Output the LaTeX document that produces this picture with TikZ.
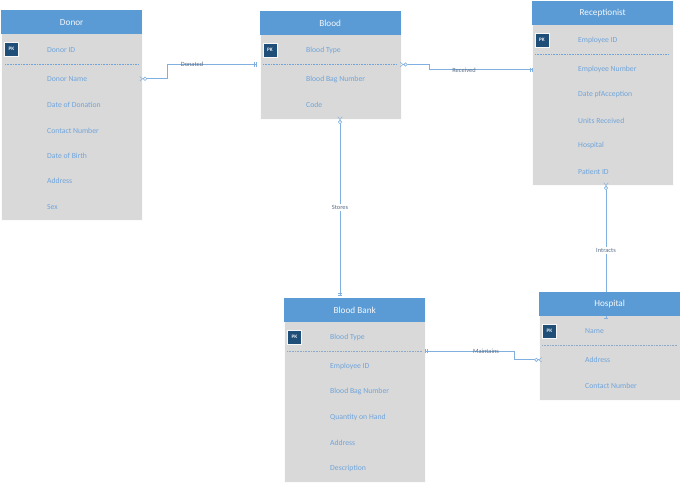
\documentclass[tikz,border=0pt]{standalone}
\usepackage{fontspec}
\setmainfont{Carlito}
\usetikzlibrary{arrows.meta}
\definecolor{headblue}{HTML}{5B9BD5}
\definecolor{bodygray}{HTML}{D9D9D9}
\definecolor{keyblue}{HTML}{1F4E79}
\definecolor{textblue}{HTML}{6FA5DB}
\definecolor{lineblue}{HTML}{7FB0E0}
\definecolor{labelgray}{HTML}{5A6E88}
\definecolor{rulegray}{HTML}{8FA8C8}
\tikzset{
  onemark/.tip={Bar[width=4.5pt,line width=.5pt,sep=1.5pt]Bar[width=4.5pt,line width=.5pt,sep=3pt]},
  manymark/.tip={Circle[open,length=4pt,width=4pt,line width=.6pt,fill=white,sep=0pt]Straight Barb[reversed,length=3pt,width=4.5pt,line width=.5pt,sep=0pt]},
}
\begin{document}
\begin{tikzpicture}[x=1pt,y=-1pt]
\tikzstyle{every node}+=[inner sep=0pt]
\tikzstyle{body}=[anchor=north west,fill=bodygray,draw=white!90!bodygray,line width=.4pt,minimum width=141pt]
\tikzstyle{header}=[anchor=north west,fill=headblue,minimum width=141pt,minimum height=24pt,text=white!92!headblue,font=\fontsize{9.2}{11}\selectfont]
\tikzstyle{attr}=[anchor=west,text=textblue,font=\fontsize{7.7}{10}\selectfont]
\tikzstyle{pk}=[fill=keyblue,draw=white!80!bodygray,line width=.5pt,minimum size=14pt,text=white!90!keyblue,font=\fontsize{5.2}{6}\selectfont\bfseries]
\tikzstyle{divider}=[textblue,line width=.5pt,dash pattern=on 1pt off .6pt]
\tikzstyle{relation}=[lineblue,line width=.9pt]
\tikzstyle{rellabel}=[text=labelgray,font=\fontsize{6.4}{8}\selectfont]
\useasboundingbox (0,0) rectangle (680,483);
% Donor
\node [body,minimum height=210pt] (donor) at (1,10) {};
\node [pk] (donorpk) at (11.5,49) {PK};
\node [attr] (donorid) at (47,49.8) {Donor ID};
\coordinate (donorruleA) at (5,64);
\coordinate (donorruleB) at (138,64);
\draw [divider] (donorruleA) -- (donorruleB);
\node [attr] (donorname) at (47,78.8) {Donor Name};
\node [attr] (donordate) at (47,104.8) {Date of Donation};
\node [attr] (donorcontact) at (47,130.8) {Contact Number};
\node [attr] (donorbirth) at (47,155.8) {Date of Birth};
\node [attr] (donoraddress) at (47,180.8) {Address};
\node [attr] (donorsex) at (47,206.8) {Sex};
% Blood
\node [body,minimum height=108pt] (blood) at (259.5,11) {};
\node [pk] (bloodpk) at (270,50) {PK};
\node [attr] (bloodtype) at (306,50.8) {Blood Type};
\coordinate (bloodruleA) at (263,64.5);
\coordinate (bloodruleB) at (397,64.5);
\draw [divider] (bloodruleA) -- (bloodruleB);
\node [attr] (bloodbag) at (306,79.8) {Blood Bag Number};
\node [attr] (bloodcode) at (306,104.8) {Code};
% Receptionist
\node [body,minimum height=184pt] (receptionist) at (532,1) {};
\node [pk] (receptionistpk) at (542,40) {PK};
\node [attr] (employeeid) at (578,40.8) {Employee ID};
\coordinate (receptionistruleA) at (535,54.5);
\coordinate (receptionistruleB) at (669,54.5);
\draw [divider] (receptionistruleA) -- (receptionistruleB);
\node [attr] (employeenumber) at (578,69.8) {Employee Number};
\node [attr] (acception) at (578,94.8) {Date pfAcception};
\node [attr] (unitsreceived) at (578,120.8) {Units Received};
\node [attr] (hospitalname) at (578,145.8) {Hospital};
\node [attr] (patientid) at (578,171.8) {Patient ID};
% Blood Bank
\node [body,minimum height=184pt] (bloodbank) at (284,298) {};
\node [pk] (bankpk) at (294.5,337) {PK};
\node [attr] (banktype) at (330,337.8) {Blood Type};
\coordinate (bankruleA) at (287,351);
\coordinate (bankruleB) at (422,351);
\draw [divider,rulegray] (bankruleA) -- (bankruleB);
\node [attr] (bankemployee) at (330,366.8) {Employee ID};
\node [attr] (bankbag) at (330,391.8) {Blood Bag Number};
\node [attr] (bankquantity) at (330,417.8) {Quantity on Hand};
\node [attr] (bankaddress) at (330,442.8) {Address};
\node [attr] (bankdescription) at (330,468.8) {Description};
% Hospital
\node [body,minimum height=107.5pt] (hospital) at (539,292) {};
\node [pk] (hospitalpk) at (549.5,331) {PK};
\node [attr] (name) at (585,330.8) {Name};
\coordinate (hospitalruleA) at (542,345);
\coordinate (hospitalruleB) at (677,345);
\draw [divider,rulegray] (hospitalruleA) -- (hospitalruleB);
\node [attr] (address) at (585,359.8) {Address};
\node [attr] (contact) at (585,385.8) {Contact Number};
% connectors
\coordinate (donatedbend) at (167,0);
\coordinate (receivedbend) at (429,0);
\coordinate (maintainsbend) at (514,0);
\coordinate (storesline) at (340,0);
\coordinate (intractsline) at (606,0);
\coordinate (hospitalkey) at (606,319);
\draw [relation,manymark-onemark] ([xshift=-3pt]donor.east |- donorname) -- (donatedbend |- donorname) -- (donatedbend |- bloodruleA) -- node [pos=0.27,rellabel] (donated) {Donated} (blood.west |- bloodruleA);
\draw [relation,manymark-onemark] ([xshift=-1pt]blood.east |- bloodruleA) -- (receivedbend |- bloodruleA) -- (receivedbend |- employeenumber) -- node [pos=0.33,rellabel] (received) {Received} ([xshift=3pt]receptionist.west |- employeenumber);
\draw [relation,manymark-onemark] ([yshift=3pt]blood.south -| storesline) -- node [pos=0.5,rellabel,fill=white,inner ysep=1.5pt] (stores) {Stores} (bloodbank.north -| storesline);
\draw [relation,onemark-manymark] ([xshift=-3pt]bloodbank.east |- bankruleA) -- (maintainsbend |- bankruleA) -- (maintainsbend |- address) -- ([xshift=3pt]hospital.west |- address);
\node [rellabel] (maintains) at (486,351) {Maintains};
\draw [relation,manymark-{Bar[width=4pt,line width=.5pt,sep=1pt]}] ([yshift=3pt]receptionist.south -| intractsline) -- node [pos=0.5,rellabel,fill=white,inner ysep=1.5pt] (intracts) {Intracts} (hospitalkey);
% headers
\node [header] (donorhead) at (donor.north west) {Donor};
\node [header] (bloodhead) at (blood.north west) {Blood};
\node [header] (receptionisthead) at (receptionist.north west) {Receptionist};
\node [header] (bankhead) at (bloodbank.north west) {Blood Bank};
\node [header] (hospitalhead) at (hospital.north west) {Hospital};
\end{tikzpicture}
\end{document}
